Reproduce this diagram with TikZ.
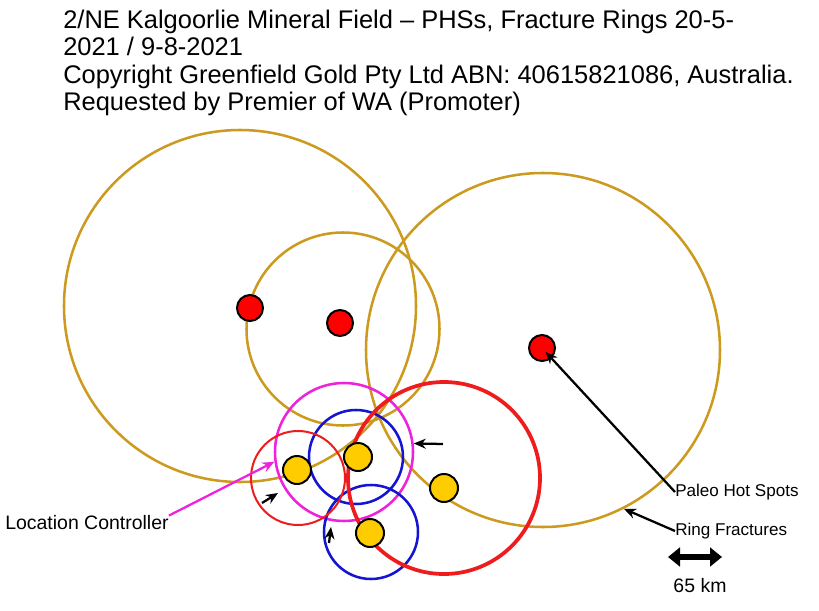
\documentclass[tikz,border=0pt]{standalone}
\usepackage{fontspec}
\setmainfont{Liberation Sans}
\usetikzlibrary{arrows.meta, positioning, calc}
\definecolor{ringgold}{HTML}{CC9A1E}
\definecolor{ringred}{HTML}{EE1C1C}
\definecolor{ringblue}{HTML}{1414D2}
\definecolor{ctrlpink}{HTML}{EE22DD}
\definecolor{spotred}{HTML}{FF0000}
\definecolor{spotgold}{HTML}{FFCC00}

\begin{document}
\begin{tikzpicture}[x=0.75pt, y=-0.75pt,
    ring/.style={circle, inner sep=0pt, minimum size=#1*1.5pt},
    hotspot/.style={circle, draw=black, fill=spotred, line width=1.5pt, inner sep=0pt, minimum size=19.5pt},
    goldspot/.style={circle, draw=black, fill=spotgold, line width=1.5pt, inner sep=0pt, minimum size=21pt},
    pointer/.style={-{Stealth[length=9pt, width=7.5pt]}, line width=1.7pt},
    label/.style={anchor=west, inner sep=0pt, font=\fontsize{12.8}{15}\selectfont}]
    \useasboundingbox (0,0) rectangle (819,611);

    % Title
    \node[anchor=north west, inner sep=0pt, align=left, font=\fontsize{19.1}{20.4}\selectfont] (title) at (63,10)
        {2/NE Kalgoorlie Mineral Field -- PHSs, Fracture Rings 20-5-\\2021 / 9-8-2021\\Copyright Greenfield Gold Pty Ltd ABN: 40615821086, Australia.\\Requested by Premier of WA (Promoter)};

    % Ring fractures
    \node[ring=176, draw=ringgold, line width=1.9pt] (ringW) at (240,306) {};
    \node[ring=96.5, draw=ringgold, line width=1.9pt] (ringM) at (343,329) {};
    \node[ring=177, draw=ringgold, line width=1.9pt] (ringE) at (543,350) {};

    % Location rings
    \node[ring=69, draw=ctrlpink, line width=1.9pt] (lc) at (344,452) {};
    \node[ring=47, draw=ringblue, line width=1.9pt] (blueN) at (356,457) {};
    \node[ring=47, draw=ringblue, line width=1.9pt] (blueS) at (371,532) {};
    \node[ring=47, draw=ringred, line width=1.5pt] (redW) at (298,478) {};
    \node[ring=96, draw=ringred, line width=2.8pt] (redE) at (444,478) {};

    % Paleo hot spots
    \node[hotspot] (hotW) at (250,308) {};
    \node[hotspot] (hotM) at (340,323) {};
    \node[hotspot] (hotE) at (542,348) {};

    % Gold spots
    \node[goldspot] (gsA) at (297,470) {};
    \node[goldspot] (gsB) at (358,457) {};
    \node[goldspot] (gsC) at (444,488) {};
    \node[goldspot] (gsD) at (370,533) {};

    % Labels
    \node[label] (paleo) at (675,492) {Paleo Hot Spots};
    \node[label] (rf) at (675,531) {Ring Fractures};
    \node[label, font=\fontsize{14.6}{17}\selectfont] (loc) at (5,523) {Location Controller};
    \node[inner sep=0pt, font=\fontsize{14.6}{17}\selectfont] (km) at (700,586) {65 km};

    % Pointers
    \draw[pointer, shorten >=4pt] (paleo.west) -- (hotE.center);
    \draw[pointer] (rf.west) -- (ringE.-63);
    \draw[pointer, draw=ctrlpink, fill=ctrlpink] (loc.north east) -- (lc.188);
    \coordinate (pA) at (443,444);
    \coordinate (pB) at (262,503);
    \coordinate (pBt) at (278,493);
    \coordinate (pC) at (329,543);
    \coordinate (pCt) at (331,527);
    \draw[pointer] (pA) -- (lc.7);
    \draw[pointer] (pB) -- (pBt);
    \draw[pointer] (pC) -- (pCt);

    % Scale
    \coordinate (sbL) at (668,557);
    \coordinate (sbR) at (722,557);
    \draw[{Triangle[length=9pt, width=14pt]}-{Triangle[length=9pt, width=14pt]}, line width=4.5pt] (sbL) -- (sbR);
\end{tikzpicture}
\end{document}
